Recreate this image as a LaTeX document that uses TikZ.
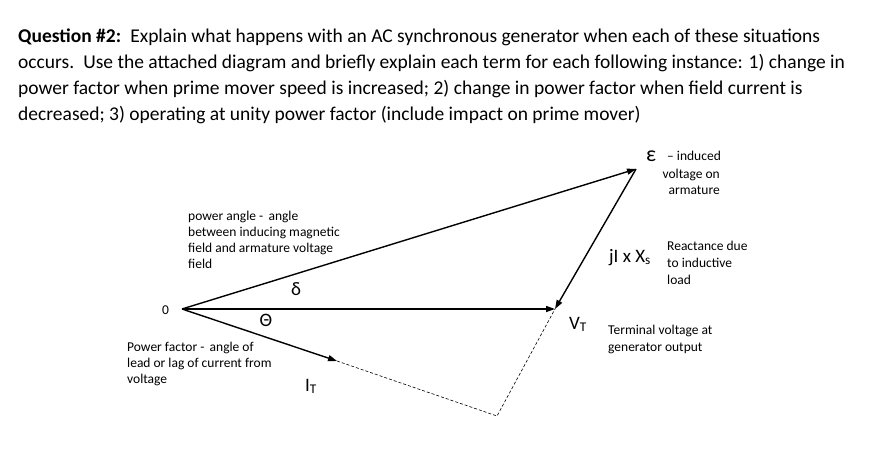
\documentclass[tikz,border=0pt]{standalone}
\usepackage{fontspec}
\setmainfont{Carlito}
\usetikzlibrary{arrows.meta}
\begin{document}
\begin{tikzpicture}[x=1pt,y=-1pt,
  vec/.style={line width=1.4pt,-{Triangle[length=9pt,width=6pt]}},
  dashln/.style={densely dashed,line width=0.6pt},
  ttl/.style={font=\fontsize{19.5}{26}\selectfont,inner sep=0pt,anchor=base west},
  lbl/.style={font=\fontsize{13.5}{16}\selectfont,inner sep=0pt,anchor=base west},
  big/.style={font=\fontsize{19}{20}\selectfont,inner sep=0pt}]
\useasboundingbox[fill=white] (0,0) rectangle (873,450);
\node[ttl] (q1) at (18,42) {\textbf{Question \#2:}\, Explain what happens with an AC synchronous generator when each of these situations};
\node[ttl] (q2) at (18,68) {occurs.\, Use the attached diagram and briefly explain each term for each following instance: 1) change in};
\node[ttl] (q3) at (18,94) {power factor when prime mover speed is increased; 2) change in power factor when field current is};
\node[ttl] (q4) at (18,120) {decreased; 3) operating at unity power factor (include impact on prime mover)};
\coordinate (O) at (182,309);
\coordinate (V) at (555,309);
\coordinate (E) at (636,169);
\coordinate (I) at (337,361);
\coordinate (D) at (497,416);
\draw[vec] (O) -- (E);
\draw[vec] (O) -- (V);
\draw[vec] (E) -- (V);
\draw[vec] (O) -- (I);
\draw[dashln] (I) -- (D) -- (V);
\node[lbl] (zero) at (162,314) {0};
\node[big] (delta) at (296,289) {δ};
\node[big] (theta) at (266,320) {Θ};
\node[lbl] (pa1) at (188,220) {power angle -\, angle};
\node[lbl] (pa2) at (188,236) {between inducing magnetic};
\node[lbl] (pa3) at (188,252) {field and armature voltage};
\node[lbl] (pa4) at (188,268) {field};
\node[lbl] (pf1) at (127,351) {Power factor -\, angle of};
\node[lbl] (pf2) at (127,367) {lead or lag of current from};
\node[lbl] (pf3) at (127,383) {voltage};
\node[big,anchor=base west] (it) at (305,391) {I\textsubscript{T}};
\node[big,anchor=base west] (vt) at (569,329) {V\textsubscript{T}};
\node[lbl] (tv1) at (608,334) {Terminal voltage at};
\node[lbl] (tv2) at (608,351) {generator output};
\node[big,anchor=base west] (jx) at (609,262) {jI x X\textsubscript{s}};
\node[lbl] (re1) at (667,250) {Reactance due};
\node[lbl] (re2) at (667,267) {to inductive};
\node[lbl] (re3) at (667,284) {load};
\node[big,anchor=base west,font=\fontsize{22}{22}\selectfont] (eps) at (646,161) {ε};
\node[lbl] (ind) at (667,160) {– induced};
\node[lbl,anchor=base east] (von1) at (720,178) {voltage on};
\node[lbl,anchor=base east] (von2) at (720,194) {armature};
\end{tikzpicture}
\end{document}
